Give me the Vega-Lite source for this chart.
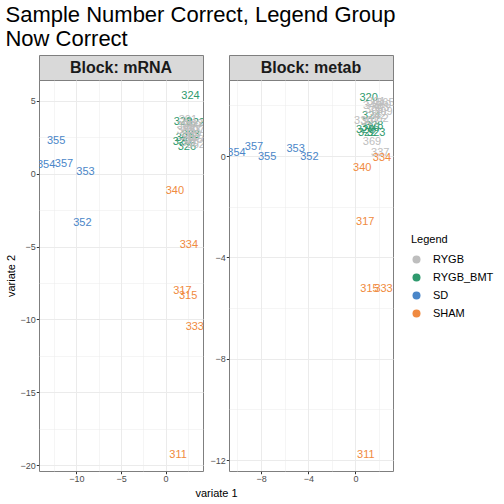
{
  "$schema": "https://vega.github.io/schema/vega-lite/v6.json",
  "padding": {"left": 5, "top": 4, "right": 5, "bottom": 5},
  "title": {
    "text": ["Sample Number Correct, Legend Group", "Now Correct"],
    "anchor": "start",
    "fontSize": 22,
    "lineHeight": 23.5,
    "fontWeight": "normal",
    "color": "black",
    "offset": 4
  },
  "datasets": {
    "strips": [
      {"block": "mRNA", "label": "Block: mRNA"},
      {"block": "metab", "label": "Block: metab"}
    ],
    "scores": [
      {"block": "mRNA", "group": "RYGB_BMT", "sample": "324", "variate1": 2.80, "variate2": 5.31},
      {"block": "mRNA", "group": "RYGB_BMT", "sample": "328", "variate1": 1.94, "variate2": 3.57},
      {"block": "mRNA", "group": "RYGB_BMT", "sample": "320", "variate1": 1.83, "variate2": 2.20},
      {"block": "mRNA", "group": "RYGB_BMT", "sample": "326", "variate1": 2.39, "variate2": 1.85},
      {"block": "mRNA", "group": "RYGB_BMT", "sample": "322", "variate1": 3.39, "variate2": 3.50},
      {"block": "mRNA", "group": "RYGB_BMT", "sample": "323", "variate1": 2.83, "variate2": 2.68},
      {"block": "mRNA", "group": "RYGB_BMT", "sample": "329", "variate1": 2.16, "variate2": 2.47},
      {"block": "mRNA", "group": "RYGB", "sample": "301", "variate1": 2.50, "variate2": 3.71},
      {"block": "mRNA", "group": "RYGB", "sample": "303", "variate1": 3.17, "variate2": 3.43},
      {"block": "mRNA", "group": "RYGB", "sample": "305", "variate1": 2.72, "variate2": 3.16},
      {"block": "mRNA", "group": "RYGB", "sample": "307", "variate1": 3.39, "variate2": 3.02},
      {"block": "mRNA", "group": "RYGB", "sample": "309", "variate1": 2.27, "variate2": 2.95},
      {"block": "mRNA", "group": "RYGB", "sample": "330", "variate1": 2.95, "variate2": 2.75},
      {"block": "mRNA", "group": "RYGB", "sample": "337", "variate1": 3.50, "variate2": 2.54},
      {"block": "mRNA", "group": "RYGB", "sample": "342", "variate1": 2.50, "variate2": 2.54},
      {"block": "mRNA", "group": "RYGB", "sample": "345", "variate1": 3.17, "variate2": 2.34},
      {"block": "mRNA", "group": "RYGB", "sample": "360", "variate1": 2.72, "variate2": 2.13},
      {"block": "mRNA", "group": "RYGB", "sample": "362", "variate1": 3.39, "variate2": 1.99},
      {"block": "mRNA", "group": "RYGB", "sample": "365", "variate1": 2.27, "variate2": 3.30},
      {"block": "mRNA", "group": "RYGB", "sample": "369", "variate1": 2.95, "variate2": 3.30},
      {"block": "mRNA", "group": "SD", "sample": "355", "variate1": -12.28, "variate2": 2.27},
      {"block": "mRNA", "group": "SD", "sample": "354", "variate1": -13.40, "variate2": 0.62},
      {"block": "mRNA", "group": "SD", "sample": "357", "variate1": -11.39, "variate2": 0.69},
      {"block": "mRNA", "group": "SD", "sample": "353", "variate1": -8.99, "variate2": 0.12},
      {"block": "mRNA", "group": "SD", "sample": "352", "variate1": -9.33, "variate2": -3.37},
      {"block": "mRNA", "group": "SHAM", "sample": "340", "variate1": 1.04, "variate2": -1.17},
      {"block": "mRNA", "group": "SHAM", "sample": "334", "variate1": 2.61, "variate2": -4.88},
      {"block": "mRNA", "group": "SHAM", "sample": "317", "variate1": 1.90, "variate2": -8.04},
      {"block": "mRNA", "group": "SHAM", "sample": "315", "variate1": 2.53, "variate2": -8.38},
      {"block": "mRNA", "group": "SHAM", "sample": "333", "variate1": 3.28, "variate2": -10.53},
      {"block": "mRNA", "group": "SHAM", "sample": "311", "variate1": 1.41, "variate2": -19.30},
      {"block": "metab", "group": "RYGB_BMT", "sample": "320", "variate1": 1.11, "variate2": 2.29},
      {"block": "metab", "group": "RYGB_BMT", "sample": "324", "variate1": 1.34, "variate2": 1.58},
      {"block": "metab", "group": "RYGB_BMT", "sample": "322", "variate1": 0.99, "variate2": 0.91},
      {"block": "metab", "group": "RYGB_BMT", "sample": "323", "variate1": 1.76, "variate2": 0.91},
      {"block": "metab", "group": "RYGB_BMT", "sample": "326", "variate1": 1.25, "variate2": 1.11},
      {"block": "metab", "group": "RYGB_BMT", "sample": "328", "variate1": 1.59, "variate2": 1.18},
      {"block": "metab", "group": "RYGB_BMT", "sample": "329", "variate1": 0.83, "variate2": 1.03},
      {"block": "metab", "group": "RYGB", "sample": "337", "variate1": 2.10, "variate2": 0.11},
      {"block": "metab", "group": "RYGB", "sample": "369", "variate1": 1.40, "variate2": 0.54},
      {"block": "metab", "group": "RYGB", "sample": "360", "variate1": 2.25, "variate2": 2.01},
      {"block": "metab", "group": "RYGB", "sample": "307", "variate1": 1.25, "variate2": 1.34},
      {"block": "metab", "group": "RYGB", "sample": "330", "variate1": 0.66, "variate2": 1.38},
      {"block": "metab", "group": "RYGB", "sample": "301", "variate1": 1.76, "variate2": 2.13},
      {"block": "metab", "group": "RYGB", "sample": "303", "variate1": 2.10, "variate2": 1.89},
      {"block": "metab", "group": "RYGB", "sample": "305", "variate1": 1.59, "variate2": 1.82},
      {"block": "metab", "group": "RYGB", "sample": "309", "variate1": 2.36, "variate2": 1.74},
      {"block": "metab", "group": "RYGB", "sample": "342", "variate1": 1.85, "variate2": 1.58},
      {"block": "metab", "group": "RYGB", "sample": "345", "variate1": 1.42, "variate2": 1.97},
      {"block": "metab", "group": "RYGB", "sample": "362", "variate1": 2.02, "variate2": 1.46},
      {"block": "metab", "group": "RYGB", "sample": "365", "variate1": 2.53, "variate2": 2.09},
      {"block": "metab", "group": "SD", "sample": "354", "variate1": -10.09, "variate2": 0.11},
      {"block": "metab", "group": "SD", "sample": "357", "variate1": -8.60, "variate2": 0.34},
      {"block": "metab", "group": "SD", "sample": "355", "variate1": -7.49, "variate2": -0.03},
      {"block": "metab", "group": "SD", "sample": "353", "variate1": -5.07, "variate2": 0.28},
      {"block": "metab", "group": "SD", "sample": "352", "variate1": -3.91, "variate2": -0.05},
      {"block": "metab", "group": "SHAM", "sample": "340", "variate1": 0.57, "variate2": -0.46},
      {"block": "metab", "group": "SHAM", "sample": "334", "variate1": 2.25, "variate2": -0.07},
      {"block": "metab", "group": "SHAM", "sample": "317", "variate1": 0.83, "variate2": -2.62},
      {"block": "metab", "group": "SHAM", "sample": "315", "variate1": 1.19, "variate2": -5.26},
      {"block": "metab", "group": "SHAM", "sample": "333", "variate1": 2.38, "variate2": -5.26},
      {"block": "metab", "group": "SHAM", "sample": "311", "variate1": 0.88, "variate2": -11.80}
    ]
  },
  "columns": 2,
  "bounds": "flush",
  "spacing": {"row": 0, "column": 26},
  "concat": [
    {
      "data": {"name": "strips"},
      "transform": [{"filter": "datum.block === 'mRNA'"}],
      "width": 164,
      "height": 25,
      "view": {"fill": "#D9D9D9", "stroke": "#7F7F7F"},
      "mark": {"type": "text", "fontSize": 16, "fontWeight": "bold", "color": "#1A1A1A"},
      "encoding": {"text": {"field": "label"}}
    },
    {
      "data": {"name": "strips"},
      "transform": [{"filter": "datum.block === 'metab'"}],
      "width": 164,
      "height": 25,
      "view": {"fill": "#D9D9D9", "stroke": "#7F7F7F"},
      "mark": {"type": "text", "fontSize": 16, "fontWeight": "bold", "color": "#1A1A1A"},
      "encoding": {"text": {"field": "label"}}
    },
    {
      "data": {"name": "scores"},
      "transform": [{"filter": "datum.block === 'mRNA'"}],
      "width": 164,
      "height": 391,
      "mark": {"type": "text", "fontSize": 11, "clip": true},
      "encoding": {
        "x": {
          "field": "variate1", "type": "quantitative",
          "scale": {"domain": [-14.2, 4.2], "nice": false, "zero": false},
          "axis": {
            "title": "variate 1", "titleX": 177, "titlePadding": 4,
            "values": [-12.5, -10, -7.5, -5, -2.5, 0, 2.5],
            "labelExpr": "datum.value % 5 === 0 ? datum.label : ''",
            "tickOpacity": {"condition": {"test": "datum.value % 5 === 0", "value": 1}, "value": 0},
            "gridWidth": {"condition": {"test": "datum.value % 5 === 0", "value": 1}, "value": 0.5}
          }
        },
        "y": {
          "field": "variate2", "type": "quantitative",
          "scale": {"domain": [-20.41, 6.44], "nice": false, "zero": false},
          "axis": {
            "title": "variate 2", "titlePadding": 3,
            "values": [5, 2.5, 0, -2.5, -5, -7.5, -10, -12.5, -15, -17.5, -20],
            "labelExpr": "datum.value % 5 === 0 ? datum.label : ''",
            "tickOpacity": {"condition": {"test": "datum.value % 5 === 0", "value": 1}, "value": 0},
            "gridWidth": {"condition": {"test": "datum.value % 5 === 0", "value": 1}, "value": 0.5}
          }
        },
        "text": {"field": "sample"},
        "color": {
          "field": "group", "type": "nominal", "title": "Legend",
          "scale": {
            "domain": ["RYGB", "RYGB_BMT", "SD", "SHAM"],
            "range": ["#BEBEBE", "#2F9A6E", "#4A86C8", "#F08A40"]
          }
        }
      }
    },
    {
      "data": {"name": "scores"},
      "transform": [{"filter": "datum.block === 'metab'"}],
      "width": 164,
      "height": 391,
      "mark": {"type": "text", "fontSize": 11, "clip": true},
      "encoding": {
        "x": {
          "field": "variate1", "type": "quantitative",
          "scale": {"domain": [-10.72, 3.18], "nice": false, "zero": false},
          "axis": {
            "title": null,
            "values": [-10, -8, -6, -4, -2, 0, 2],
            "labelExpr": "datum.value % 4 === 0 ? datum.label : ''",
            "tickOpacity": {"condition": {"test": "datum.value % 4 === 0", "value": 1}, "value": 0},
            "gridWidth": {"condition": {"test": "datum.value % 4 === 0", "value": 1}, "value": 0.5}
          }
        },
        "y": {
          "field": "variate2", "type": "quantitative",
          "scale": {"domain": [-12.43, 3.0], "nice": false, "zero": false},
          "axis": {
            "title": null,
            "values": [2, 0, -2, -4, -6, -8, -10, -12],
            "labelExpr": "datum.value % 4 === 0 ? datum.label : ''",
            "tickOpacity": {"condition": {"test": "datum.value % 4 === 0", "value": 1}, "value": 0},
            "gridWidth": {"condition": {"test": "datum.value % 4 === 0", "value": 1}, "value": 0.5}
          }
        },
        "text": {"field": "sample"},
        "color": {
          "field": "group", "type": "nominal", "title": "Legend",
          "scale": {
            "domain": ["RYGB", "RYGB_BMT", "SD", "SHAM"],
            "range": ["#BEBEBE", "#2F9A6E", "#4A86C8", "#F08A40"]
          }
        }
      }
    }
  ],
  "resolve": {"scale": {"color": "shared"}},
  "config": {
    "font": "Liberation Sans",
    "view": {"stroke": "#7F7F7F"},
    "axis": {
      "domain": false,
      "labelColor": "#4D4D4D",
      "labelFontSize": 9,
      "labelPadding": 1,
      "tickColor": "#333333",
      "tickSize": 2.75,
      "gridColor": "#EBEBEB",
      "titleFontSize": 11,
      "titleFontWeight": "normal",
      "titleColor": "black"
    },
    "legend": {
      "orient": "none",
      "legendX": 372,
      "legendY": 179,
      "titleFontSize": 11,
      "titleFontWeight": "normal",
      "titleColor": "black",
      "titlePadding": 9,
      "labelFontSize": 11,
      "labelColor": "black",
      "labelOffset": 11,
      "symbolType": "circle",
      "symbolSize": 64,
      "rowPadding": 6
    }
  }
}
